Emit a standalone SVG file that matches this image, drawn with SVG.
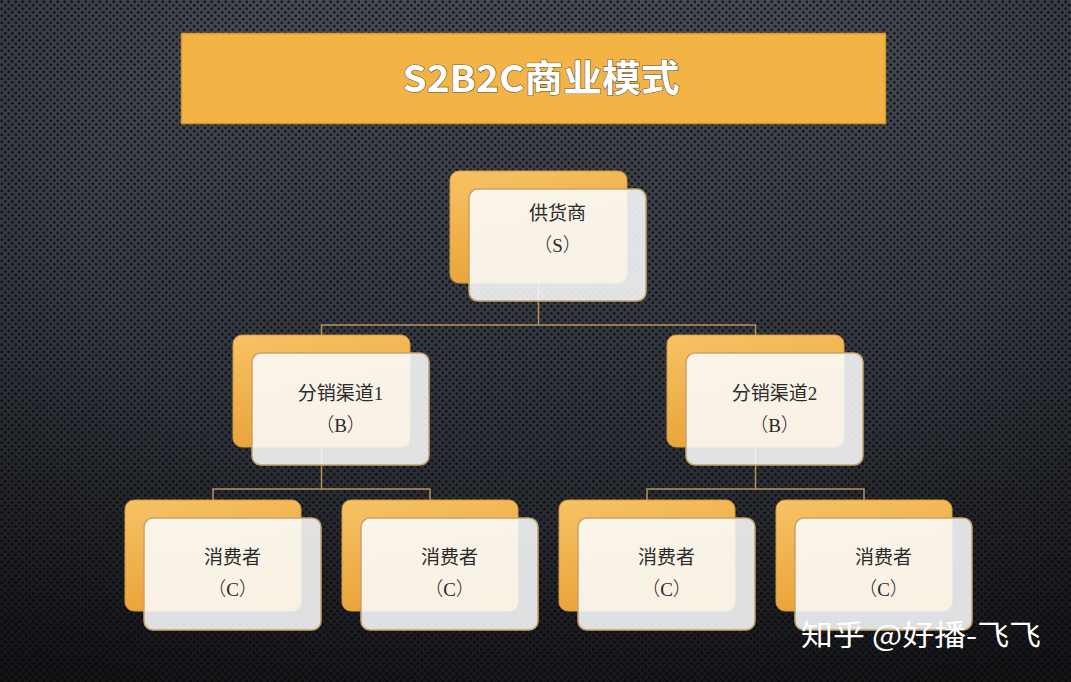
<svg xmlns="http://www.w3.org/2000/svg" width="1071" height="682" viewBox="0 0 1071 682">
  <defs>
    <linearGradient id="bg" x1="0" y1="0" x2="0" y2="1">
      <stop offset="0" stop-color="#464b54"/>
      <stop offset="0.5" stop-color="#343840"/>
      <stop offset="1" stop-color="#1e1f23"/>
    </linearGradient>
    <radialGradient id="vig" cx="0.5" cy="0.35" r="0.75">
      <stop offset="0.55" stop-color="#000" stop-opacity="0"/>
      <stop offset="1" stop-color="#000" stop-opacity="0.35"/>
    </radialGradient>
    <pattern id="dots" width="7" height="7" patternUnits="userSpaceOnUse">
      <circle cx="1.75" cy="1.75" r="1.5" fill="#08090b" fill-opacity="0.7"/>
      <circle cx="5.25" cy="5.25" r="1.5" fill="#08090b" fill-opacity="0.7"/>
    </pattern>
    <linearGradient id="org" x1="0" y1="0" x2="0.3" y2="1">
      <stop offset="0" stop-color="#f7c265"/>
      <stop offset="1" stop-color="#e9a337"/>
    </linearGradient>
    <style>
      .back { fill: url(#org); stroke: #d39a3c; stroke-width: 1; }
      .front { fill: #fbfcfd; fill-opacity: 0.88; stroke: #c7a26a; stroke-width: 1.5; }
      .lbl { font-family: "Liberation Serif", "Noto Sans CJK SC", serif; font-size: 19px; fill: #2a2a2a; text-anchor: middle; }
      .fw { font-family: "Noto Sans CJK SC", sans-serif; font-weight: 300; }
      .conn { fill: none; stroke: #b8945a; stroke-width: 1.5; }
    </style>
  </defs>

  <rect width="1071" height="682" fill="url(#bg)"/>
  <rect width="1071" height="682" fill="url(#dots)"/>
  <rect width="1071" height="682" fill="url(#vig)"/>

  <g id="title">
    <rect x="181.5" y="33.5" width="704" height="90" fill="#f3b445" stroke="#d4962f" stroke-width="1.5"/>
    <text x="541" y="92" font-family="'Noto Sans CJK SC', 'Liberation Sans', sans-serif" font-size="37" font-weight="bold" fill="#ffffff" stroke="#6b5a40" stroke-width="1.2" paint-order="stroke" text-anchor="middle" textLength="277" lengthAdjust="spacingAndGlyphs">S2B2C商业模式</text>
  </g>

  <g id="connectors">
    <path class="conn" d="M538.5 283 V325 M321.5 335 V325 H755.5 V335"/>
    <path class="conn" d="M321.5 447 V489 M213 500 V489 H430 V500"/>
    <path class="conn" d="M755.5 447 V489 M647 500 V489 H864 V500"/>
  </g>

  <g id="node-supplier">
    <rect class="back" x="450" y="171" width="177" height="112" rx="9"/>
    <rect class="front" x="469" y="189" width="177" height="112" rx="9"/>
    <text class="lbl" x="557.5" y="220">供货商</text>
    <text class="lbl" x="557.5" y="252"><tspan class="fw">（</tspan>S<tspan class="fw">）</tspan></text>
  </g>

  <g id="node-channel1">
    <rect class="back" x="233" y="335" width="177" height="112" rx="9"/>
    <rect class="front" x="252" y="353" width="177" height="112" rx="9"/>
    <text class="lbl" x="340.5" y="400">分销渠道1</text>
    <text class="lbl" x="340.5" y="432"><tspan class="fw">（</tspan>B<tspan class="fw">）</tspan></text>
  </g>

  <g id="node-channel2">
    <rect class="back" x="667" y="335" width="177" height="112" rx="9"/>
    <rect class="front" x="686" y="353" width="177" height="112" rx="9"/>
    <text class="lbl" x="774.5" y="400">分销渠道2</text>
    <text class="lbl" x="774.5" y="432"><tspan class="fw">（</tspan>B<tspan class="fw">）</tspan></text>
  </g>

  <g id="node-consumer1">
    <rect class="back" x="125" y="500" width="176" height="111" rx="9"/>
    <rect class="front" x="144" y="518" width="177" height="112" rx="9"/>
    <text class="lbl" x="232.5" y="564">消费者</text>
    <text class="lbl" x="232.5" y="596"><tspan class="fw">（</tspan>C<tspan class="fw">）</tspan></text>
  </g>

  <g id="node-consumer2">
    <rect class="back" x="342" y="500" width="176" height="111" rx="9"/>
    <rect class="front" x="361" y="518" width="177" height="112" rx="9"/>
    <text class="lbl" x="449.5" y="564">消费者</text>
    <text class="lbl" x="449.5" y="596"><tspan class="fw">（</tspan>C<tspan class="fw">）</tspan></text>
  </g>

  <g id="node-consumer3">
    <rect class="back" x="559" y="500" width="176" height="111" rx="9"/>
    <rect class="front" x="578" y="518" width="177" height="112" rx="9"/>
    <text class="lbl" x="666.5" y="564">消费者</text>
    <text class="lbl" x="666.5" y="596"><tspan class="fw">（</tspan>C<tspan class="fw">）</tspan></text>
  </g>

  <g id="node-consumer4">
    <rect class="back" x="776" y="500" width="176" height="111" rx="9"/>
    <rect class="front" x="795" y="518" width="177" height="112" rx="9"/>
    <text class="lbl" x="883.5" y="564">消费者</text>
    <text class="lbl" x="883.5" y="596"><tspan class="fw">（</tspan>C<tspan class="fw">）</tspan></text>
  </g>

  <text x="801" y="646" font-family="'Noto Sans CJK SC', sans-serif" font-size="29" fill="#ffffff" textLength="240" lengthAdjust="spacingAndGlyphs">知乎 @好播-飞飞</text>
</svg>
